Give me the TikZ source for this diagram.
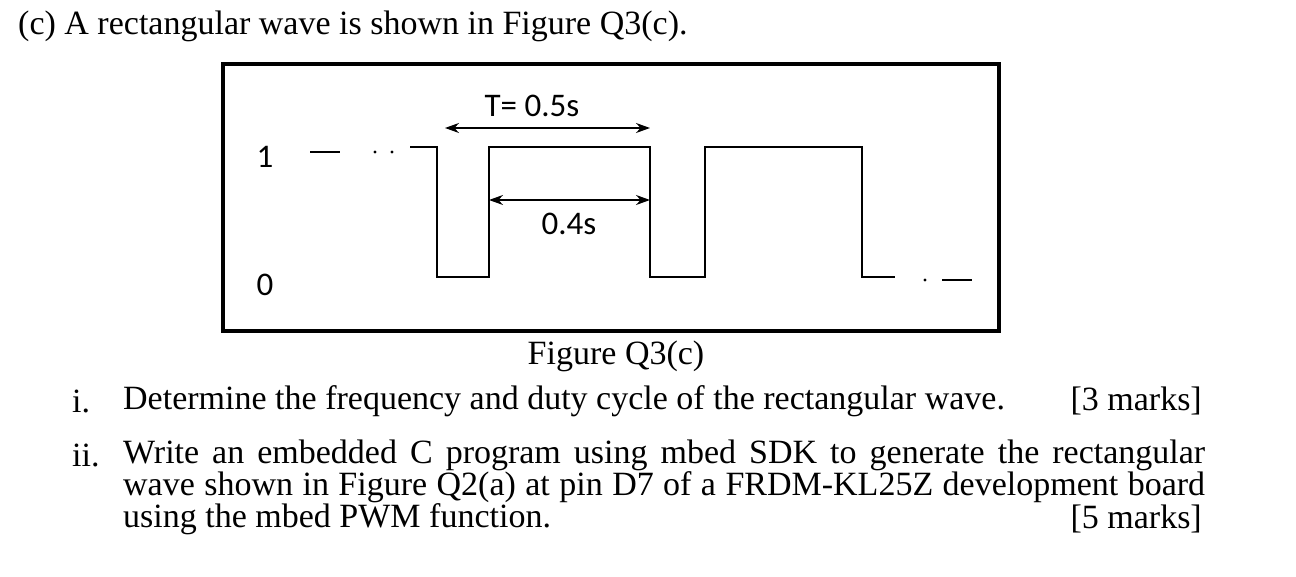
\documentclass[tikz,border=0pt]{standalone}
\usepackage{fontspec}
\setmainfont{Liberation Serif}
\newfontfamily\calfont{Carlito}
\usetikzlibrary{arrows.meta}
\begin{document}
\begin{tikzpicture}[x=1pt,y=-1pt,
  txt/.style={font=\fontsize{34}{38}\selectfont,inner sep=0pt},
  lab/.style={font=\calfont\fontsize{33}{36}\selectfont,inner sep=0pt},
  wave/.style={line width=2pt},
  dim/.style={line width=1.6pt,{Stealth[length=14pt,width=10pt]}-{Stealth[length=14pt,width=10pt]}}]
\useasboundingbox (0,0) rectangle (1296,577);
\node[txt,anchor=west] (title) at (18,26) {(c) A rectangular wave is shown in Figure Q3(c).};
\draw[line width=3.5pt] (223,64) rectangle (999,331);
\node[lab] (one) at (265,157) {1};
\node[lab] (zero) at (265,285) {0};
\draw[wave] (310,152) -- (340,152);
\fill (375,152) circle (1.6) (392,152) circle (1.6);
\draw[wave] (410,147) -- (437,147) -- (437,277) -- (489,277) -- (489,147) -- (650,147) -- (650,277) -- (705,277) -- (705,147) -- (862,147) -- (862,277) -- (895,277);
\fill (925,280) circle (1.6);
\draw[wave] (942,280) -- (972,280);
\coordinate (t1) at (445,128); \coordinate (t2) at (650,128);
\draw[dim] (t1) -- (t2);
\node[lab] (tl) at (532,106) {T= 0.5s};
\coordinate (d1) at (489,200); \coordinate (d2) at (650,200);
\draw[dim] (d1) -- (d2);
\node[lab] (dl) at (569,224) {0.4s};
\node[txt] (cap) at (616,356) {Figure Q3(c)};
\node[txt,anchor=west] (i) at (72,401) {i.};
\node[txt,anchor=west] (it) at (123,401) {Determine the frequency and duty cycle of the rectangular wave.};
\node[txt,anchor=east] (m3) at (1202,401) {[3 marks]};
\node[txt,anchor=west] (ii) at (72,455) {ii.};
\node[txt,anchor=west] (l1) at (123,455) {\makebox[1082pt][s]{Write an embedded C program using mbed SDK to generate the rectangular}};
\node[txt,anchor=west] (l2) at (123,487) {\makebox[1082pt][s]{wave shown in Figure Q2(a) at pin D7 of a FRDM-KL25Z development board}};
\node[txt,anchor=west] (l3) at (123,519) {using the mbed PWM function.};
\node[txt,anchor=east] (m5) at (1202,519) {[5 marks]};
\end{tikzpicture}
\end{document}
